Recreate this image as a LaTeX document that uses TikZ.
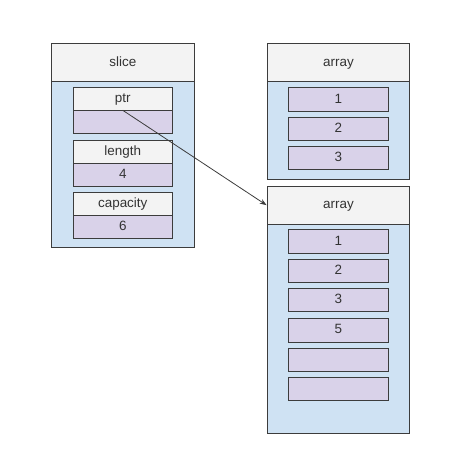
\documentclass[tikz,border=0pt]{standalone}
\usepackage{fontspec}
\setmainfont{Liberation Sans}
\usetikzlibrary{arrows.meta}
\definecolor{headgray}{HTML}{F3F3F3}
\definecolor{bodyblue}{HTML}{CFE2F3}
\definecolor{cellpurple}{HTML}{D9D2E9}
\definecolor{linegray}{HTML}{3C3C3C}
\tikzset{
    box/.style={draw=linegray, line width=0.9bp, inner sep=0pt, anchor=north west,
        text=black!80, font=\fontsize{13.5}{16}\selectfont, text height=9.8bp, text depth=2.6bp},
    header/.style={box, fill=headgray, minimum width=142.8bp, minimum height=37.5bp},
    body/.style={box, fill=bodyblue, minimum width=142.8bp},
    label/.style={box, fill=headgray, minimum width=99.2bp, minimum height=23bp},
    value/.style={box, fill=cellpurple, minimum width=99.2bp, minimum height=23.2bp}
}
\begin{document}
\begin{tikzpicture}[x=1bp, y=-1bp]
    \useasboundingbox (0,0) rectangle (474,465);

    % slice
    \node[body, minimum height=166bp] (slicebody) at (51,81) {};
    \node[header] (slicehead) at (51,43.4) {slice};
    \node[label] (ptr) at (72.7,87.3) {ptr};
    \node[value] (ptrval) at (72.7,110.3) {};
    \node[label] (len) at (72.7,139.9) {length};
    \node[value] (lenval) at (72.7,162.8) {4};
    \node[label] (cap) at (72.7,192.3) {capacity};
    \node[value] (capval) at (72.7,215.2) {6};

    % old array
    \node[body, minimum height=98.3bp] (arrbody) at (266.6,81) {};
    \node[header] (arrhead) at (266.6,43.4) {array};
    \node[value] (a1) at (288.4,87.4) {1};
    \node[value] (a2) at (288.4,116.7) {2};
    \node[value] (a3) at (288.4,146) {3};

    % new array
    \node[body, minimum height=210bp] (newbody) at (266.6,222.7) {};
    \node[header] (newhead) at (266.6,186) {array};
    \node[value] (b1) at (288.4,229.4) {1};
    \node[value] (b2) at (288.4,258.7) {2};
    \node[value] (b3) at (288.4,288) {3};
    \node[value] (b4) at (288.4,318.3) {5};
    \node[value] (b5) at (288.4,347.7) {};
    \node[value] (b6) at (288.4,376.8) {};

    \draw[linegray, line width=0.8bp, -{Stealth[length=7bp, width=5bp]}] (ptrval.north) -- (newhead.west);
\end{tikzpicture}
\end{document}
